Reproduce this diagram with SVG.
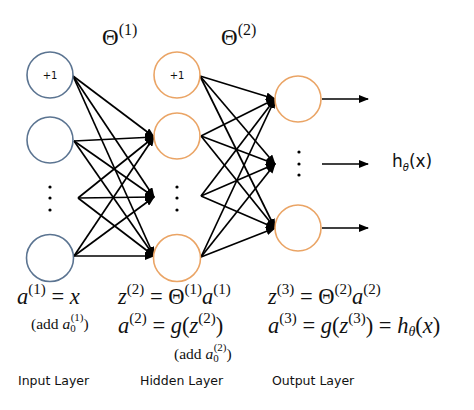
<svg xmlns="http://www.w3.org/2000/svg" width="474" height="410" viewBox="0 0 474 410">
<style>
.in{fill:#fff;stroke:#5b7491;stroke-width:1.6}
.hid{fill:#fff;stroke:#eaa465;stroke-width:1.6}
.e{stroke:#000;stroke-width:1.7;fill:none}
.dot{fill:#000}
.m{font-family:"Liberation Serif","DejaVu Serif",serif;fill:#111}
.i{font-style:italic}
.s{font-family:"DejaVu Sans","Noto Sans",sans-serif;font-size:12.5px;fill:#111}
.one{font-family:"DejaVu Sans",sans-serif;font-size:10px;fill:#111;text-anchor:middle}
</style>
<defs>
<marker id="ah" markerUnits="userSpaceOnUse" markerWidth="10" markerHeight="8" refX="9" refY="4" orient="auto">
<path d="M0,0 L10,4 L0,8 Z" fill="#000"/>
</marker>
</defs>
<rect width="474" height="410" fill="#fff"/>
<g id="connectors">
<g marker-end="url(#ah)">
<path class="e" d="M73,76 L154,137"/>
<path class="e" d="M73,76 L154,197"/>
<path class="e" d="M73,76 L154,256"/>
<path class="e" d="M74,141 L154,137"/>
<path class="e" d="M74,141 L154,197"/>
<path class="e" d="M74,141 L154,256"/>
<path class="e" d="M78,198 L154,137"/>
<path class="e" d="M78,198 L154,197"/>
<path class="e" d="M78,198 L154,256"/>
<path class="e" d="M74,256 L154,137"/>
<path class="e" d="M74,256 L154,197"/>
<path class="e" d="M74,256 L154,256"/>
<path class="e" d="M200,76 L275,99"/>
<path class="e" d="M200,76 L275,164"/>
<path class="e" d="M200,76 L275,228"/>
<path class="e" d="M201,136 L275,99"/>
<path class="e" d="M201,136 L275,164"/>
<path class="e" d="M201,136 L275,228"/>
<path class="e" d="M201,196 L275,99"/>
<path class="e" d="M201,196 L275,164"/>
<path class="e" d="M201,196 L275,228"/>
<path class="e" d="M201,257 L275,99"/>
<path class="e" d="M201,257 L275,164"/>
<path class="e" d="M201,257 L275,228"/>
<path class="e" d="M322,99 L368,99"/>
<path class="e" d="M322,164 L368,164"/>
<path class="e" d="M322,228 L368,228"/>
</g>
</g>
<g id="input-bias"><circle class="in" cx="50" cy="75" r="23"/><text class="one" x="50" y="79">+1</text></g>
<g id="input-1"><circle class="in" cx="50" cy="140" r="23"/></g>
<g id="input-dots"><circle class="dot" cx="50" cy="187" r="1.6"/><circle class="dot" cx="50" cy="198" r="1.6"/><circle class="dot" cx="50" cy="210" r="1.6"/></g>
<g id="input-n"><circle class="in" cx="50" cy="258" r="23.5"/></g>
<g id="hidden-bias"><circle class="hid" cx="177" cy="75" r="23"/><text class="one" x="177" y="79">+1</text></g>
<g id="hidden-1"><circle class="hid" cx="177" cy="136" r="23"/></g>
<g id="hidden-dots"><circle class="dot" cx="177" cy="187" r="1.6"/><circle class="dot" cx="177" cy="198" r="1.6"/><circle class="dot" cx="177" cy="210" r="1.6"/></g>
<g id="hidden-n"><circle class="hid" cx="177" cy="258" r="23.5"/></g>
<g id="output-1"><circle class="hid" cx="298" cy="99" r="23"/></g>
<g id="output-dots"><circle class="dot" cx="299" cy="152" r="1.6"/><circle class="dot" cx="299" cy="164" r="1.6"/><circle class="dot" cx="299" cy="175" r="1.6"/></g>
<g id="output-n"><circle class="hid" cx="298" cy="228" r="23"/></g>
<g id="labels">
<text class="m" x="102" y="45" style="font-size:23px">Θ<tspan style="font-size:16px" dy="-10">(1)</tspan></text>
<text class="m" x="221" y="45" style="font-size:23px">Θ<tspan style="font-size:16px" dy="-10">(2)</tspan></text>
<text x="392" y="167" font-family="DejaVu Sans,sans-serif" font-size="17" fill="#111">h<tspan font-size="10" font-style="italic" dy="4">θ</tspan><tspan dy="-4">(x)</tspan></text>

<g style="font-size:22.5px">
<text class="m" x="17" y="304"><tspan class="i">a</tspan><tspan style="font-size:15px" dy="-10">(1)</tspan><tspan dy="10"> = </tspan><tspan class="i">x</tspan></text>

<text class="m" x="118" y="304"><tspan class="i">z</tspan><tspan style="font-size:15px" dy="-10">(2)</tspan><tspan dy="10"> = Θ</tspan><tspan style="font-size:15px" dy="-10">(1)</tspan><tspan class="i" dy="10">a</tspan><tspan style="font-size:15px" dy="-10">(1)</tspan></text>
<text class="m" x="118" y="333"><tspan class="i">a</tspan><tspan style="font-size:15px" dy="-10">(2)</tspan><tspan dy="10"> = </tspan><tspan class="i">g</tspan>(<tspan class="i">z</tspan><tspan style="font-size:15px" dy="-10">(2)</tspan><tspan dy="10">)</tspan></text>

<text class="m" x="268" y="304"><tspan class="i">z</tspan><tspan style="font-size:15px" dy="-10">(3)</tspan><tspan dy="10"> = Θ</tspan><tspan style="font-size:15px" dy="-10">(2)</tspan><tspan class="i" dy="10">a</tspan><tspan style="font-size:15px" dy="-10">(2)</tspan></text>
<text class="m" x="268" y="333"><tspan class="i">a</tspan><tspan style="font-size:15px" dy="-10">(3)</tspan><tspan dy="10"> = </tspan><tspan class="i">g</tspan>(<tspan class="i">z</tspan><tspan style="font-size:15px" dy="-10">(3)</tspan><tspan dy="10">) = </tspan><tspan class="i">h</tspan><tspan class="i" style="font-size:14px" dy="3">θ</tspan><tspan dy="-3">(</tspan><tspan class="i">x</tspan>)</text>
</g>

<text class="m" x="31" y="329" style="font-size:15.5px">(add <tspan class="i">a</tspan><tspan style="font-size:11px" dy="3">0</tspan><tspan style="font-size:11px" dx="-5" dy="-11">(1)</tspan><tspan dy="8">)</tspan></text>
<text class="m" x="174" y="359" style="font-size:15.5px">(add <tspan class="i">a</tspan><tspan style="font-size:11px" dy="3">0</tspan><tspan style="font-size:11px" dx="-5" dy="-11">(2)</tspan><tspan dy="8">)</tspan></text>

<text class="s" x="18" y="385">Input Layer</text>
<text class="s" x="140" y="385">Hidden Layer</text>
<text class="s" x="272" y="385">Output Layer</text>
</g>
</svg>
